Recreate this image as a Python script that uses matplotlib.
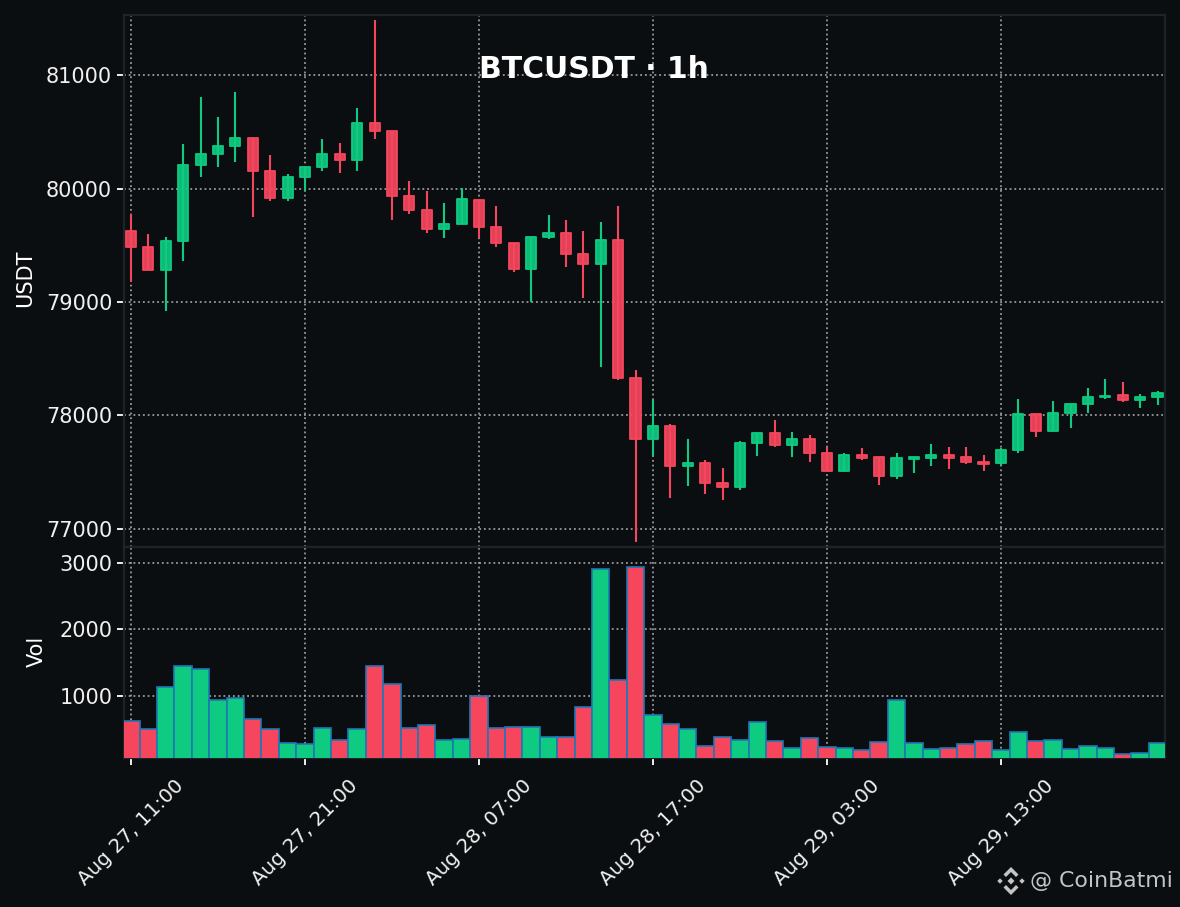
import numpy as np
import matplotlib
matplotlib.use("Agg")
import matplotlib.pyplot as plt
from matplotlib.patches import Polygon

# values, hourly candles
opens = [79625, 79485, 79285, 79540, 80207, 80307, 80377, 80445, 80154, 79919,
         80104, 80192, 80304, 80254, 80577, 80507, 79934, 79811, 79646, 79690,
         79903, 79657, 79516, 79287, 79569, 79604, 79419, 79331, 79542, 78328,
         77791, 77906, 77554, 77580, 77404, 77369, 77756, 77844, 77739, 77791,
         77665, 77507, 77650, 77630, 77463, 77618, 77627, 77650, 77630, 77589,
         77577, 77700, 78009, 77859, 78026, 78097, 78159, 78179, 78132, 78159]
highs = [79772, 79599, 79570, 80389, 80803, 80627, 80847, 80445, 80292, 80125,
         80189, 80433, 80398, 80706, 81485, 80507, 80063, 79975, 79869, 80001,
         79903, 79842, 79516, 79569, 79768, 79724, 79628, 79707, 79842, 78404,
         78135, 77929, 77797, 77607, 77533, 77771, 77844, 77964, 77850, 77824,
         77724, 77671, 77715, 77630, 77671, 77633, 77750, 77724, 77724, 77653,
         77715, 78147, 78009, 78129, 78097, 78244, 78323, 78297, 78191, 78217]
lows = [79176, 79279, 78921, 79364, 80104, 80192, 80236, 79752, 79893, 79893,
        79981, 80157, 80139, 80157, 80439, 79725, 79778, 79611, 79567, 79690,
        79563, 79484, 79264, 78997, 79551, 79308, 79035, 78428, 78314, 76888,
        77642, 77275, 77381, 77310, 77258, 77346, 77645, 77724, 77636, 77592,
        77507, 77507, 77604, 77383, 77436, 77492, 77559, 77524, 77568, 77507,
        77559, 77668, 77806, 77859, 77894, 78021, 78141, 78117, 78062, 78088]
closes = [79487, 79285, 79537, 80207, 80304, 80374, 80445, 80157, 79919, 80101,
          80189, 80304, 80254, 80577, 80510, 79937, 79813, 79646, 79687, 79907,
          79657, 79516, 79287, 79569, 79604, 79419, 79331, 79542, 78328, 77791,
          77906, 77554, 77580, 77404, 77369, 77756, 77844, 77739, 77791, 77668,
          77507, 77648, 77627, 77463, 77621, 77633, 77650, 77627, 77586, 77574,
          77700, 78009, 77859, 78026, 78097, 78159, 78176, 78132, 78159, 78194]
volumes = [620, 500, 1140, 1456, 1411, 945, 965, 659, 509, 288,
           273, 524, 333, 509, 1456, 1185, 524, 559, 333, 358,
           1005, 524, 539, 539, 388, 388, 840, 2915, 1245, 2945,
           719, 574, 499, 253, 388, 333, 604, 318, 223, 363,
           238, 223, 193, 303, 935, 288, 208, 223, 273, 318,
           193, 454, 318, 333, 208, 253, 223, 128, 138, 288]
tick_pos = [0, 10, 20, 30, 40, 50]
tick_labels = ["Aug 27, 11:00", "Aug 27, 21:00", "Aug 28, 07:00",
               "Aug 28, 17:00", "Aug 29, 03:00", "Aug 29, 13:00"]
price_ticks = [77000, 78000, 79000, 80000, 81000]
vol_ticks = [1000, 2000, 3000]

UP = "#0ECB81"
DOWN = "#F6465D"
BG = "#0B0E11"
SPINE = "#1E2329"
W, H = 1180, 907

fig = plt.figure(figsize=(W / 100, H / 100), dpi=100, facecolor=BG)
ax = fig.add_axes([124 / W, 1 - 547 / H, 1041 / W, 532 / H], facecolor=BG)
ax_vol = fig.add_axes([124 / W, 1 - 758 / H, 1041 / W, 211 / H], facecolor=BG, sharex=ax)

x = np.arange(len(opens))
o, h, l, c = map(np.array, (opens, highs, lows, closes))
colors = [UP if up else DOWN for up in c >= o]

ax.vlines(x, l, h, colors=colors, lw=1.5, zorder=2)
ax.bar(x, np.abs(c - o), bottom=np.minimum(o, c), width=0.58, color=colors,
       edgecolor=colors, lw=1.4, alpha=0.92, joinstyle="round", zorder=3)
ax_vol.bar(x, volumes, width=1.0, color=colors, edgecolor="#1F77B4", lw=1.2, zorder=3)

ax.set_xlim(-0.4, 59.43)
ax.set_ylim(76841, 81529)
ax_vol.set_ylim(68, 3240)
ax.set_yticks(price_ticks)
ax_vol.set_yticks(vol_ticks)
ax_vol.set_xticks(tick_pos)
ax_vol.set_xticklabels(tick_labels, rotation=45, ha="center")
ax.tick_params(axis="x", bottom=False, labelbottom=False)

for a in (ax, ax_vol):
    a.set_axisbelow(True)
    a.grid(True, color="#B0B0B0", linestyle=(0, (1.2, 1.9)), lw=1.1)
    a.tick_params(colors="#F0F0F0", labelsize=15, length=5, width=1.4, pad=3.5)
    for s in a.spines.values():
        s.set_color(SPINE)
        s.set_linewidth(1.6)
ax_vol.tick_params(axis="x", labelsize=14.3, pad=8)

fig.text(25 / W, 1 - 278 / H, "USDT", color="white", fontsize=15, rotation=90,
         ha="center", va="center")
fig.text(37 / W, 1 - 651 / H, "Vol", color="white", fontsize=15, rotation=90,
         ha="center", va="center")
fig.text(594 / W, 1 - 69 / H, "BTCUSDT · 1h", color="white", fontsize=21.5,
         fontweight="bold", ha="center", va="center")

# watermark with the diamond logo next to it
MARK = "#C4C4C4"
fig.text(1030 / W, 1 - 881 / H, "@ CoinBatmi", color=MARK, fontsize=15.8,
         ha="left", va="center")
LOGO_X, LOGO_Y = 1011, 881
chevron = [(0, -14), (7.5, -6.5), (5, -4), (0, -9), (-5, -4), (-7.5, -6.5)]
shapes = [chevron, [(px, -py) for px, py in chevron]]
for cx, r in [(0, 3.5), (-11, 2.7), (11, 2.7)]:
    shapes.append([(cx - r, 0), (cx, -r), (cx + r, 0), (cx, r)])
for shape in shapes:
    fig.add_artist(Polygon([((LOGO_X + px) / W, 1 - (LOGO_Y + py) / H) for px, py in shape],
                           closed=True, color=MARK, lw=0, transform=fig.transFigure))

fig.savefig("out.png", dpi=100, facecolor=BG)
